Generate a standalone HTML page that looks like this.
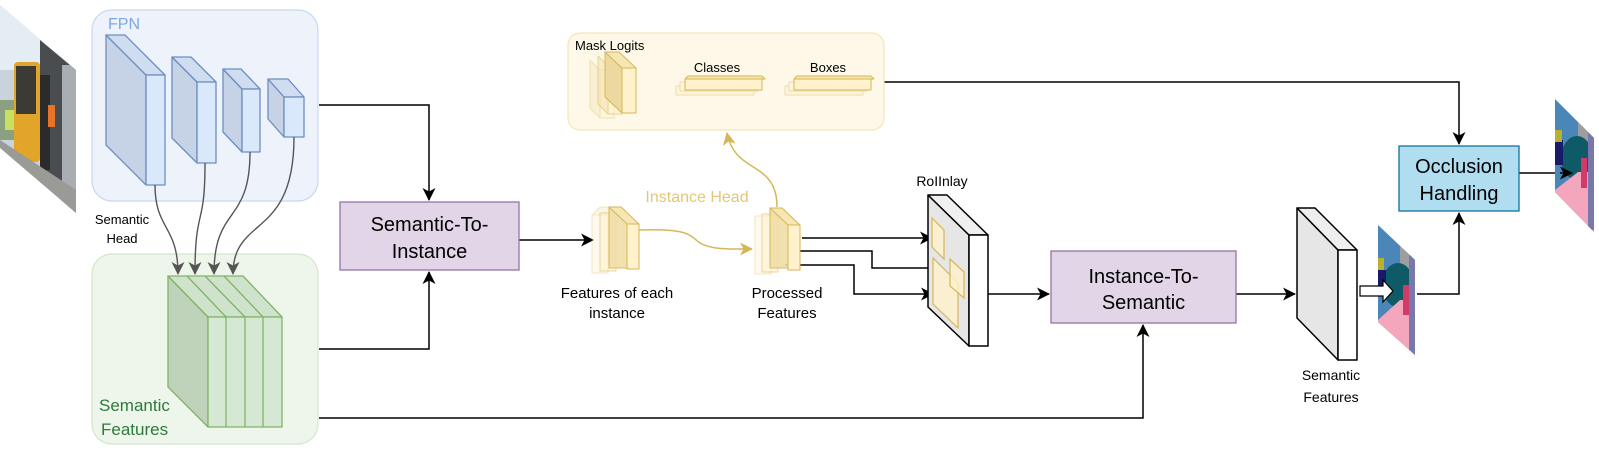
<!DOCTYPE html>
<html><head><meta charset="utf-8"><style>
html,body{margin:0;padding:0;background:#fff}
svg{display:block}
text{font-family:"Liberation Sans",sans-serif}
</style></head><body>
<svg width="1599" height="450" viewBox="0 0 1599 450" xmlns="http://www.w3.org/2000/svg">
<defs>
<marker id="a" markerWidth="13" markerHeight="13" refX="12" refY="6.5" orient="auto" markerUnits="userSpaceOnUse"><path d="M0,0 L13,6.5 L0,13 L3.5,6.5 Z" fill="#000"/></marker>
<marker id="g" markerWidth="13" markerHeight="13" refX="12" refY="6.5" orient="auto" markerUnits="userSpaceOnUse"><path d="M0,0 L13,6.5 L0,13 L3.5,6.5 Z" fill="#555"/></marker>
<marker id="y" markerWidth="13" markerHeight="13" refX="12" refY="6.5" orient="auto" markerUnits="userSpaceOnUse"><path d="M0,0 L13,6.5 L0,13 L3.5,6.5 Z" fill="#d6b656"/></marker>
<clipPath id="c1"><polygon points="0,5 76,70 76,213 0,148"/></clipPath>
<clipPath id="c2"><polygon points="1378,225 1415,260 1415,355 1378,322"/></clipPath>
<clipPath id="c3"><polygon points="1555,99 1594,138 1594,232 1555,192"/></clipPath>
</defs>

<g clip-path="url(#c1)">
<rect x="0" y="0" width="80" height="220" fill="#c9d3db"/>
<rect x="0" y="0" width="80" height="70" fill="#e4edf4"/>
<polygon points="40,40 76,70 76,213 40,180" fill="#4a4d4f"/>
<rect x="62" y="65" width="14" height="150" fill="#a8aeb2"/>
<rect x="14" y="62" width="26" height="100" fill="#e0a52a" rx="4"/>
<rect x="16" y="66" width="20" height="48" fill="#3b3a35"/>
<rect x="40" y="75" width="10" height="95" fill="#2b2b2b"/>
<rect x="48" y="105" width="7" height="22" fill="#e8742a"/>
<rect x="0" y="100" width="14" height="40" fill="#8aa080"/>
<rect x="5" y="110" width="9" height="20" fill="#c8e060"/>
<polygon points="0,140 76,190 76,213 0,148" fill="#9a9a96"/>
</g>

<rect x="92" y="10" width="226" height="191" rx="20" fill="#eef3fb" stroke="#c9d8ef" stroke-width="1.2"/>
<text x="108" y="29" font-size="16" fill="#7ea6e0">FPN</text>
<g stroke="#6c8ebf" stroke-width="1.3" stroke-linejoin="round">
<polygon points="106,35 146,75 146,185 106,145" fill="#c6d2e6"/>
<polygon points="106,35 125,35 165,75 146,75" fill="#d0dcf0"/>
<rect x="146" y="75" width="19" height="110" fill="#dae8fc"/>
<polygon points="172,57 197,82 197,163 172,138" fill="#c6d2e6"/>
<polygon points="172,57 191,57 216,82 197,82" fill="#d0dcf0"/>
<rect x="197" y="82" width="19" height="81" fill="#dae8fc"/>
<polygon points="223,69 242,89 242,152 223,132" fill="#c6d2e6"/>
<polygon points="223,69 241,69 260,89 242,89" fill="#d0dcf0"/>
<rect x="242" y="89" width="18" height="63" fill="#dae8fc"/>
<polygon points="268,79 284,97 284,137 268,119" fill="#c6d2e6"/>
<polygon points="268,79 288,79 304,97 284,97" fill="#d0dcf0"/>
<rect x="284" y="97" width="20" height="40" fill="#dae8fc"/>
</g>

<rect x="92" y="254" width="226" height="190" rx="20" fill="#eef6ec" stroke="#d2e7cb" stroke-width="1.2"/>
<g stroke="#82b366" stroke-width="1.3" stroke-linejoin="round">
<polygon points="168,276 208,317 208,427 168,387" fill="#bfd3bb"/>
<polygon points="168,276 243,276 282,317 208,317" fill="#cfe2cc"/>
<line x1="187" y1="276" x2="226" y2="317"/>
<line x1="205" y1="276" x2="245" y2="317"/>
<line x1="224" y1="276" x2="263" y2="317"/>
<rect x="208" y="317" width="74" height="110" fill="#d5e8d4"/>
<line x1="226" y1="317" x2="226" y2="427"/>
<line x1="245" y1="317" x2="245" y2="427"/>
<line x1="263" y1="317" x2="263" y2="427"/>
</g>
<text x="99" y="411" font-size="17" fill="#2d7a3a">Semantic</text>
<text x="101" y="435" font-size="17" fill="#2d7a3a">Features</text>

<g fill="none" stroke="#555" stroke-width="1.4">
<path d="M155,185 C155,230 178,225 178,274" marker-end="url(#g)"/>
<path d="M205,163 C205,230 195,205 195,274" marker-end="url(#g)"/>
<path d="M250,152 C250,225 214,205 214,274" marker-end="url(#g)"/>
<path d="M294,137 C294,240 233,215 233,274" marker-end="url(#g)"/>
</g>
<text x="122" y="224" font-size="13" text-anchor="middle">Semantic</text>
<text x="122" y="243" font-size="13" text-anchor="middle">Head</text>

<g fill="none" stroke="#000" stroke-width="1.5">
<path d="M319,105 H429 V200" marker-end="url(#a)"/>
<path d="M319,349 H429 V272" marker-end="url(#a)"/>
<path d="M319,418 H1143 V325" marker-end="url(#a)"/>
<path d="M519,240 H593" marker-end="url(#a)"/>
<path d="M884,82 H1459 V144" marker-end="url(#a)"/>
<path d="M802,238 H932" marker-end="url(#a)"/>
<path d="M794,251 H872 V268 H951" marker-end="url(#a)"/>
<path d="M785,265 H854 V294 H933" marker-end="url(#a)"/>
<path d="M988,294 H1049" marker-end="url(#a)"/>
<path d="M1236,294 H1295" marker-end="url(#a)"/>
<path d="M1417,294 H1459 V213" marker-end="url(#a)"/>
<path d="M1519,173 H1572" marker-end="url(#a)"/>
</g>

<rect x="340" y="202" width="179" height="68" fill="#e1d5e7" stroke="#9673a6" stroke-width="1.3"/>
<text x="429.5" y="231" font-size="20" text-anchor="middle">Semantic-To-</text>
<text x="429.5" y="258" font-size="20" text-anchor="middle">Instance</text>

<rect x="568" y="33" width="316" height="97" rx="12" fill="#fdf8e7" stroke="#f3e6b8" stroke-width="1.2"/>
<g stroke="#d6b656" stroke-linejoin="round">
<g opacity="0.35"><polygon points="590,60 600,70 600,118 590,108" fill="#f4e4b0"/><rect x="600" y="70" width="14" height="48" fill="#fff2cc"/></g>
<g opacity="0.55"><polygon points="598,56 608,66 608,114 598,104" fill="#f4e4b0"/><rect x="608" y="66" width="14" height="48" fill="#fff2cc"/></g>
<polygon points="605,52 622,68 622,113 605,97" fill="#ecd9a0"/>
<polygon points="605,52 619,52 636,68 622,68" fill="#f6e6b4"/>
<rect x="622" y="68" width="14" height="45" fill="#fff2cc"/>
<g opacity="0.4"><rect x="676" y="86" width="78" height="9" fill="#fff2cc"/><rect x="680" y="82" width="78" height="9" fill="#fff2cc"/></g>
<polygon points="685,79 688,76 762,76 765,79" fill="#f6e6b4"/>
<rect x="685" y="79" width="77" height="11" fill="#fff2cc"/>
<g opacity="0.4"><rect x="785" y="86" width="78" height="9" fill="#fff2cc"/><rect x="789" y="82" width="78" height="9" fill="#fff2cc"/></g>
<polygon points="794,79 797,76 871,76 874,79" fill="#f6e6b4"/>
<rect x="794" y="79" width="77" height="11" fill="#fff2cc"/>
</g>
<text x="575" y="50" font-size="13">Mask Logits</text>
<text x="717" y="72" font-size="13" text-anchor="middle">Classes</text>
<text x="828" y="72" font-size="13" text-anchor="middle">Boxes</text>

<g stroke="#d6b656" stroke-linejoin="round">
<g opacity="0.35"><rect x="592" y="215" width="16" height="58" fill="#fff2cc"/><polygon points="592,215 600,207 616,207 608,215" fill="#f4e4b0"/></g>
<g opacity="0.55"><rect x="600" y="213" width="16" height="58" fill="#fff2cc"/></g>
<polygon points="609,207 621,207 632,224 632,268 609,268" fill="#f0dea6" opacity="0.9"/>
<polygon points="609,207 621,207 639,224 627,224" fill="#f6e6b4"/>
<rect x="627" y="224" width="12" height="45" fill="#fff2cc"/>
<line x1="609" y1="207" x2="609" y2="266"/>
</g>
<text x="617" y="298" font-size="15" text-anchor="middle">Features of each</text>
<text x="617" y="318" font-size="15" text-anchor="middle">instance</text>

<g stroke="#d6b656" stroke-linejoin="round">
<g opacity="0.35"><rect x="755" y="216" width="16" height="58" fill="#fff2cc"/></g>
<g opacity="0.55"><rect x="762" y="214" width="16" height="58" fill="#fff2cc"/></g>
<polygon points="770,208 782,208 794,225 794,268 770,268" fill="#f0dea6" opacity="0.9"/>
<polygon points="770,208 782,208 800,225 788,225" fill="#f6e6b4"/>
<rect x="788" y="225" width="12" height="45" fill="#fff2cc"/>
<line x1="770" y1="208" x2="770" y2="266"/>
</g>
<text x="787" y="298" font-size="15" text-anchor="middle">Processed</text>
<text x="787" y="318" font-size="15" text-anchor="middle">Features</text>

<g fill="none" stroke="#d6b656" stroke-width="1.5">
<path d="M639,230 C690,228 690,236 700,243 C712,250 730,249 752,249" marker-end="url(#y)"/>
<path d="M777,207 C777,160 735,175 727,133" marker-end="url(#y)"/>
</g>
<text x="697" y="202" font-size="16" text-anchor="middle" fill="#e3c774">Instance Head</text>

<text x="942" y="186" font-size="14" text-anchor="middle">RoIInlay</text>
<g stroke="#000" stroke-width="1.5" stroke-linejoin="round">
<polygon points="928,195 969,235 969,346 928,307" fill="#e6e6e6"/>
<polygon points="928,195 947,195 988,235 969,235" fill="#f0f0f0"/>
<rect x="969" y="235" width="19" height="111" fill="#fff"/>
</g>
<g stroke="#d6b656" stroke-width="1.2" fill="#fff2cc" fill-opacity="0.8">
<polygon points="932,218 944,230 944,259 932,247"/>
<polygon points="933,258 958,283 958,328 933,304"/>
<polygon points="950,259 964,272 964,298 950,286"/>
</g>

<rect x="1051" y="251" width="185" height="72" fill="#e1d5e7" stroke="#9673a6" stroke-width="1.3"/>
<text x="1143.5" y="283" font-size="20" text-anchor="middle">Instance-To-</text>
<text x="1143.5" y="309" font-size="20" text-anchor="middle">Semantic</text>

<g stroke="#000" stroke-width="1.5" stroke-linejoin="round">
<polygon points="1297,208 1338,250 1338,360 1297,318" fill="#e6e6e6"/>
<polygon points="1297,208 1315,208 1357,250 1338,250" fill="#eeeeee"/>
<rect x="1338" y="250" width="19" height="110" fill="#fff"/>
</g>
<text x="1331" y="380" font-size="14" text-anchor="middle">Semantic</text>
<text x="1331" y="402" font-size="14" text-anchor="middle">Features</text>

<g clip-path="url(#c2)">
<rect x="1375" y="220" width="45" height="140" fill="#4a86b8"/>
<rect x="1400" y="220" width="20" height="60" fill="#9e9e9e"/>
<ellipse cx="1398" cy="285" rx="16" ry="22" fill="#0e5a66"/>
<rect x="1378" y="270" width="8" height="20" fill="#1a1a6a"/>
<rect x="1378" y="258" width="6" height="12" fill="#b8b030"/>
<polygon points="1378,320 1400,300 1415,300 1415,360 1378,360" fill="#f4a6bc"/>
<rect x="1403" y="285" width="6" height="30" fill="#d23a6a"/>
<rect x="1409" y="255" width="6" height="100" fill="#7878aa"/>
</g>
<polygon points="1360,286 1383,286 1383,280 1393,291 1383,302 1383,296 1360,296" fill="#fff" stroke="#000" stroke-width="1.2"/>

<rect x="1399" y="146" width="120" height="65" fill="#b1ddf0" stroke="#10739e" stroke-width="1.3"/>
<text x="1459" y="173" font-size="20" text-anchor="middle">Occlusion</text>
<text x="1459" y="200" font-size="20" text-anchor="middle">Handling</text>

<g clip-path="url(#c3)">
<rect x="1552" y="95" width="45" height="140" fill="#4a86b8"/>
<rect x="1578" y="95" width="19" height="60" fill="#9e9e9e"/>
<ellipse cx="1577" cy="158" rx="16" ry="22" fill="#0e5a66"/>
<rect x="1555" y="140" width="8" height="25" fill="#1a1a6a"/>
<rect x="1555" y="130" width="7" height="12" fill="#b8b030"/>
<polygon points="1555,190 1578,172 1594,172 1594,235 1555,235" fill="#f4a6bc"/>
<rect x="1581" y="158" width="6" height="30" fill="#d23a6a"/>
<rect x="1588" y="130" width="6" height="100" fill="#7878aa"/>
</g>
<path d="M1560,173 H1572" stroke="#000" stroke-width="1.5" marker-end="url(#a)"/>
</svg>
</body></html>
